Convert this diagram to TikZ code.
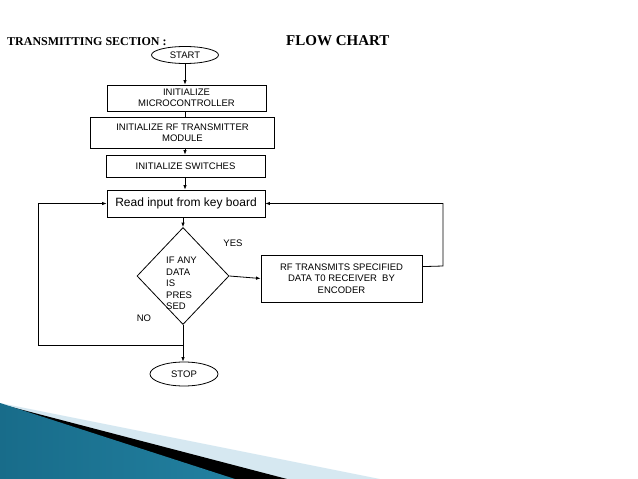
\documentclass[tikz,border=0pt]{standalone}
\usepackage{fontspec}
\setmainfont{Liberation Serif}
\setsansfont{Liberation Sans}
\usepackage{tikz}
\usetikzlibrary{arrows.meta,shapes.geometric,positioning,calc}
\usepackage{xcolor}

\definecolor{stripelight}{RGB}{214,232,241}
\definecolor{tealdark}{RGB}{24,108,138}
\definecolor{teallight}{RGB}{88,178,208}
\definecolor{tealmid}{RGB}{34,128,160}

\tikzset{
    flowbox/.style={draw, line width=0.8pt, rectangle, inner sep=0pt, align=center,
        font=\sffamily\fontsize{9.5}{11.5}\selectfont},
    termbox/.style={draw, line width=0.8pt, ellipse, inner sep=0pt,
        font=\sffamily\fontsize{9.5}{11.5}\selectfont},
    decbox/.style={draw, line width=0.8pt, diamond, inner sep=0pt},
    smalltext/.style={font=\sffamily\fontsize{9.5}{11.5}\selectfont, inner sep=0pt},
    flowarrow/.style={line width=0.8pt, -{Latex[length=4.5pt,width=3.5pt]}},
    flowline/.style={line width=0.8pt}
}

\begin{document}
\begin{tikzpicture}[x=1pt, y=-1pt]
    \useasboundingbox (0,0) rectangle (638,479);

    % headings
    \node[anchor=west, inner sep=0pt, font=\bfseries\fontsize{12}{14}\selectfont] (secttitle) at (7,42) {TRANSMITTING SECTION :};
    \node[anchor=west, inner sep=0pt, font=\bfseries\fontsize{15}{17}\selectfont] (charttitle) at (286,41) {FLOW CHART};

    % flow chart nodes
    \node[termbox, minimum width=67pt, minimum height=17pt] (start) at (185,55) {START};
    \node[flowbox, minimum width=159pt, minimum height=26pt] (initmcu) at (186.5,98) {INITIALIZE\\MICROCONTROLLER};
    \node[flowbox, minimum width=184pt, minimum height=31pt] (initrf) at (182.5,132.5) {INITIALIZE RF TRANSMITTER\\MODULE};
    \node[flowbox, minimum width=159pt, minimum height=22pt] (initsw) at (185.5,166) {INITIALIZE SWITCHES};
    \node[flowbox, minimum width=158pt, minimum height=27pt, font=\sffamily\fontsize{12}{14}\selectfont] (readkey) at (186,203.5) {Read input from key board};
    \node[decbox, minimum width=92pt, minimum height=97pt] (decide) at (183,276) {};
    \node[smalltext, anchor=north west, align=left] (decidetext) at (166,257) {IF ANY\\DATA\\IS\\PRES\\SED};
    \node[flowbox, minimum width=161pt, minimum height=47pt] (transmit) at (341.5,278.5) {RF TRANSMITS SPECIFIED\\DATA T0 RECEIVER\ \ BY\\ENCODER};
    \node[termbox, minimum width=68pt, minimum height=24pt] (stop) at (184,374) {STOP};

    % branch labels
    \node[smalltext] (yeslabel) at (233,243) {YES};
    \node[smalltext] (nolabel) at (144,318) {NO};

    % corners of the loops
    \coordinate (rightcorner) at (443,266);
    \coordinate (nojoin) at (183,345);
    \coordinate (leftcorner) at (38,345);

    % connectors
    \draw[flowarrow] (start.south) -- (start.south |- initmcu.north);
    \draw[flowline] (initmcu.south -| start.south) -- (start.south |- initrf.north);
    \draw[flowarrow] (initrf.south -| start.south) -- (start.south |- initsw.north);
    \draw[flowarrow] (initsw.south -| start.south) -- (start.south |- readkey.north);
    \draw[flowarrow] (readkey.south -| decide.north) -- (decide.north);
    \draw[flowarrow] (decide.east) -- (transmit.west);
    \draw[flowarrow] ([yshift=-12pt]transmit.north east) -- (rightcorner) |- (readkey.east);
    \draw[flowarrow] (decide.south) -- (decide.south |- stop.north);
    \draw[flowarrow] (nojoin) -- (leftcorner) |- (readkey.west);

    % bottom decoration
    \fill[stripelight] (0,403) -- (380,479) -- (0,479) -- cycle;
    \fill[black] (0,404) -- (287,479) -- (0,479) -- cycle;
    \shade[left color=tealdark, middle color=teallight, right color=tealmid] (0,403) -- (235,479) -- (0,479) -- cycle;
\end{tikzpicture}
\end{document}
